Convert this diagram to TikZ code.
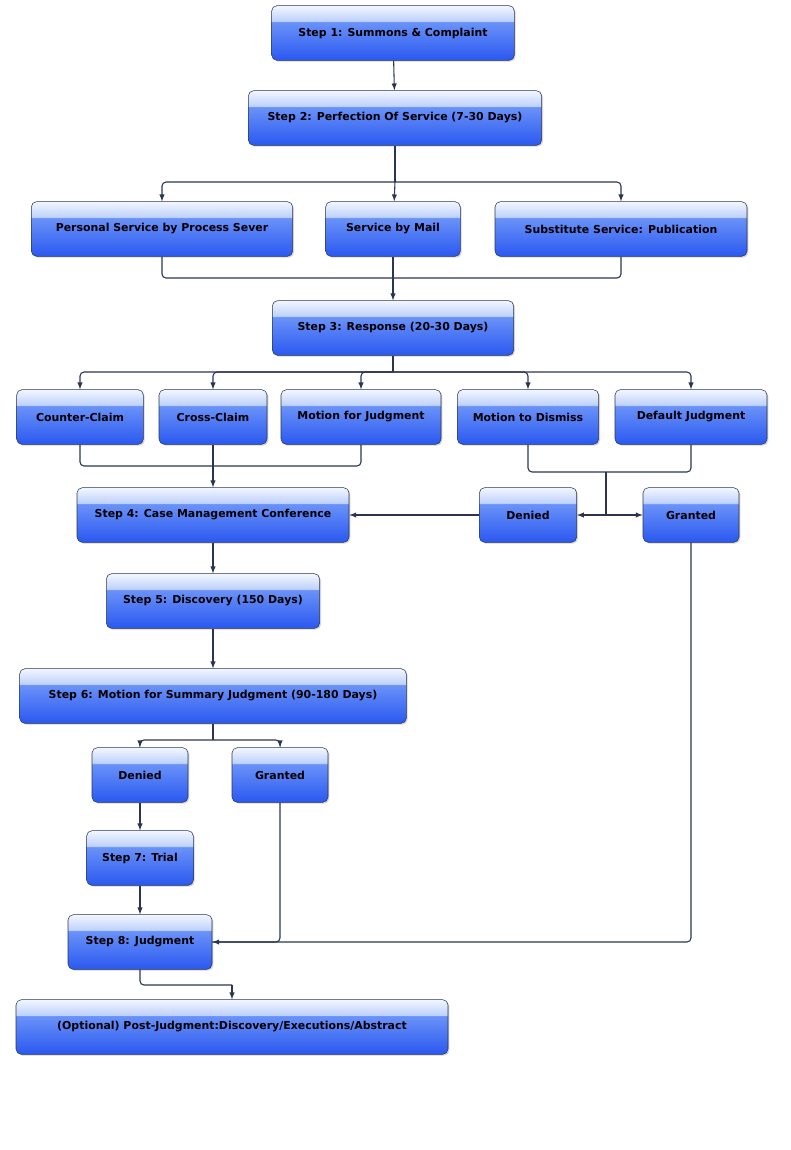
\documentclass[tikz,border=0pt]{standalone}
\usepackage{fontspec}
\setmainfont{DejaVu Sans}
\usetikzlibrary{shadows}
\definecolor{glossbot}{HTML}{2A58F0}
\definecolor{glossmid}{HTML}{6A92F8}
\definecolor{glosshi}{HTML}{BFD2FC}
\definecolor{glosstop}{HTML}{F2F6FF}
\definecolor{edgeline}{HTML}{2B3550}
\pgfdeclareverticalshading{gloss}{100bp}{color(0bp)=(glossbot); color(25bp)=(glossbot); color(60bp)=(glossmid); color(61bp)=(glosshi); color(75bp)=(glosstop); color(100bp)=(glosstop)}
\tikzset{
  stage/.style={draw=edgeline, rounded corners=4pt, shading=gloss, drop shadow={opacity=0.35, shadow xshift=1pt, shadow yshift=-1pt},
    minimum height=41pt, inner sep=0pt, font=\fontsize{8.2}{10}\selectfont\bfseries, text=black},
  link/.style={draw=edgeline, line width=0.8pt, rounded corners=3pt},
  arr/.style={link, -latex}
}
\begin{document}
\begin{tikzpicture}[x=0.75pt, y=-0.75pt]
    \useasboundingbox (0,0) rectangle (790,1150);

    % steps
    \node[stage, minimum width=182pt] (s1) at (393,33)  {Step 1: Summons \& Complaint};
    \node[stage, minimum width=220pt] (s2) at (395,118) {Step 2: Perfection Of Service (7-30 Days)};
    \node[stage, minimum width=196pt] (p1) at (162,229) {Personal Service by Process Sever};
    \node[stage, minimum width=101pt] (p2) at (393,229) {Service by Mail};
    \node[stage, minimum width=189pt] (p3) at (621,229) {Substitute Service: Publication};
    \node[stage, minimum width=181pt] (s3) at (393,328) {Step 3: Response (20-30 Days)};

    % responses
    \node[stage, minimum width=95pt]  (c1) at (80,417)  {Counter-Claim};
    \node[stage, minimum width=81pt]  (c2) at (213,417) {Cross-Claim};
    \node[stage, minimum width=120pt] (c3) at (361,417) {Motion for Judgment};
    \node[stage, minimum width=106pt] (c4) at (528,417) {Motion to Dismiss};
    \node[stage, minimum width=114pt] (c5) at (691,417) {Default Judgment};

    % rulings
    \node[stage, minimum width=204pt] (s4) at (213,515) {Step 4: Case Management Conference};
    \node[stage, minimum width=73pt]  (d1) at (528,515) {Denied};
    \node[stage, minimum width=72pt]  (g1) at (691,515) {Granted};
    \node[stage, minimum width=160pt] (s5) at (213,601) {Step 5: Discovery (150 Days)};
    \node[stage, minimum width=290pt] (s6) at (213,696) {Step 6: Motion for Summary Judgment (90-180 Days)};
    \node[stage, minimum width=72pt]  (d2) at (140,775) {Denied};
    \node[stage, minimum width=72pt]  (g2) at (280,775) {Granted};
    \node[stage, minimum width=80pt]  (s7) at (140,858) {Step 7: Trial};
    \node[stage, minimum width=108pt] (s8) at (140,942) {Step 8: Judgment};
    \node[stage, minimum width=324pt] (s9) at (232,1027) {(Optional) Post-Judgment:Discovery/Executions/Abstract};

    % junctions
    \coordinate (j2) at (395,182);
    \coordinate (j3) at (393,278);
    \coordinate (r3) at (393,372);
    \coordinate (j4) at (213,466);
    \coordinate (jd) at (606,472);
    \coordinate (jm) at (606,515);
    \coordinate (j6) at (213,740);
    \coordinate (j8) at (232,985);

    % Lines
    \draw[arr] (s1) -- (s2);
    \draw[link] (s2) -- (j2);
    \draw[arr] (j2) -| (p1);
    \draw[arr] (j2) -- (p2);
    \draw[arr] (j2) -| (p3);
    \draw[link] (p1) |- (j3);
    \draw[link] (p3) |- (j3);
    \draw[arr] (p2) -- (s3);
    \draw[link] (s3) -- (r3);
    \foreach \c in {c1,c2,c3,c4,c5}
        \draw[arr] (r3) -| (\c);
    \draw[link] (c1) |- (j4);
    \draw[link] (c3) |- (j4);
    \draw[arr] (c2) -- (s4);
    \draw[link] (c4) |- (jd);
    \draw[link] (c5) |- (jd);
    \draw[link] (jd) -- (jm);
    \draw[arr] (jm) -- (d1);
    \draw[arr] (jm) -- (g1);
    \draw[arr] (d1) -- (s4);
    \draw[arr] (s4) -- (s5);
    \draw[arr] (s5) -- (s6);
    \draw[link] (s6) -- (j6);
    \draw[arr] (j6) -| (d2);
    \draw[arr] (j6) -| (g2);
    \draw[arr] (d2) -- (s7);
    \draw[arr] (s7) -- (s8);
    \draw[link] (g2) |- (s8.east);
    \draw[arr] (g1) |- (s8);
    \draw[link] (s8) |- (j8);
    \draw[arr] (j8) -- (s9);
\end{tikzpicture}
\end{document}
